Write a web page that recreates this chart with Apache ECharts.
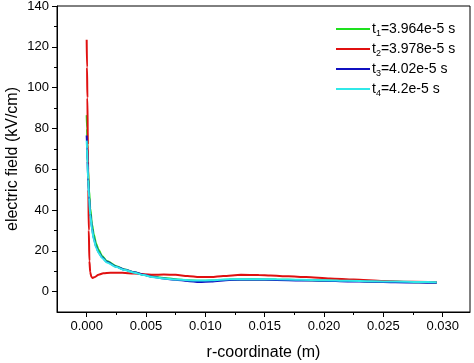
<!DOCTYPE html>
<html>
<head>
<meta charset="utf-8">
<script src="https://cdn.jsdelivr.net/npm/echarts@6/dist/echarts.min.js"></script>
<style>html,body{margin:0;padding:0;background:#fff}#c{width:474px;height:363px}</style>
</head>
<body>
<div id="c"></div>
<script>
// ---- data ----
const seriesSub = ['1', '2', '3', '4'];
const seriesTimes = ['3.964e-5', '3.978e-5', '4.02e-5', '4.2e-5'];

const r1 = [0, 0.00003, 0.00007, 0.00012, 0.0002, 0.0003, 0.00045, 0.0006, 0.0008, 0.001, 0.0013, 0.0017, 0.0025, 0.0032, 0.004, 0.0048, 0.0055, 0.0065, 0.0075, 0.0085, 0.0095, 0.0105, 0.012, 0.014, 0.016, 0.018, 0.02, 0.022, 0.024, 0.026, 0.028, 0.0295];
const v1 = [86.5, 80, 70, 60, 50, 41, 33, 28, 23.5, 20.5, 17.5, 15, 12.4, 10.8, 9.5, 8.3, 7.5, 6.7, 6.1, 5.6, 5.3, 5.4, 5.9, 6.0, 5.9, 5.7, 5.5, 5.3, 5.0, 4.8, 4.6, 4.5];

const r2 = [0, 0.00003, 0.00006, 0.0001, 0.00014, 0.00018, 0.00023, 0.0003, 0.0004, 0.0005, 0.0007, 0.001, 0.0014, 0.002, 0.003, 0.004, 0.0048, 0.0056, 0.0065, 0.0075, 0.0085, 0.0095, 0.0105, 0.0115, 0.013, 0.0145, 0.0155, 0.017, 0.0185, 0.0205, 0.0225, 0.025, 0.0275, 0.0295];
const v2 = [123.5, 110, 95, 72, 50, 30, 15, 9.5, 7.2, 6.7, 7.2, 8.3, 9.0, 9.3, 9.2, 8.9, 8.5, 8.2, 8.4, 8.2, 7.6, 7.1, 7.1, 7.6, 8.2, 8.1, 7.9, 7.5, 7.1, 6.4, 5.9, 5.2, 4.8, 4.6];

const r3 = [0, 0.00003, 0.00007, 0.00012, 0.0002, 0.0003, 0.00045, 0.0006, 0.0008, 0.001, 0.0013, 0.0017, 0.0025, 0.0032, 0.004, 0.0048, 0.0055, 0.0065, 0.0075, 0.0085, 0.0095, 0.0105, 0.012, 0.014, 0.016, 0.018, 0.02, 0.022, 0.024, 0.026, 0.028, 0.0295];
const v3 = [76.5, 72, 64, 56, 47, 38.5, 31, 26, 22, 19.3, 16.8, 14.6, 12.2, 10.7, 9.5, 8.2, 7.3, 6.4, 5.8, 5.2, 4.7, 5.0, 5.7, 5.8, 5.7, 5.5, 5.3, 5.0, 4.8, 4.6, 4.4, 4.3];

const r4 = [0, 0.00003, 0.00007, 0.00012, 0.0002, 0.0003, 0.00045, 0.0006, 0.0008, 0.001, 0.0013, 0.0017, 0.0025, 0.0032, 0.004, 0.0048, 0.0055, 0.0065, 0.0075, 0.0085, 0.0095, 0.0105, 0.012, 0.014, 0.016, 0.018, 0.02, 0.022, 0.024, 0.026, 0.028, 0.0295];
const v4 = [74, 70, 63, 55, 46, 37.5, 30.5, 25.5, 21.5, 19, 16.5, 14.3, 12, 10.6, 9.3, 8.1, 7.2, 6.4, 5.9, 5.6, 5.4, 5.6, 6.1, 6.1, 6.0, 5.8, 5.6, 5.3, 5.1, 4.9, 4.7, 4.6];

const xMajorTicks = [0, 0.005, 0.01, 0.015, 0.02, 0.025, 0.03];
const xMinorTicks = [0.0025, 0.0075, 0.0125, 0.0175, 0.0225, 0.0275];
const yMajorTicks = [0, 20, 40, 60, 80, 100, 120, 140];
const yMinorTicks = [10, 30, 50, 70, 90, 110, 130];

const colors = ['#1ee01e', '#e01010', '#1010c0', '#30e8e8'];
const rs = [r1, r2, r3, r4];
const vs = [v1, v2, v3, v4];

const names = seriesSub.map((s, i) => 't' + s + '=' + seriesTimes[i] + ' s');
const font = '"Liberation Sans", Arial, sans-serif';

const chart = echarts.init(document.getElementById('c'), null, {renderer: 'canvas'});
const axisCommon = {
  min: -0.0025, max: 0.0323, type: 'value'
};
const option = {
  animation: false,
  grid: {left: 57, right: 4, top: 6, bottom: 51, show: true, borderColor: '#000', borderWidth: 1, backgroundColor: 'transparent', containLabel: false, outerBoundsMode: 'none'},
  legend: {
    orient: 'vertical', left: 331, top: 17, itemWidth: 34, itemHeight: 2, itemGap: 4,
    icon: 'rect',
    data: names,
    formatter: function (name) {
      const i = names.indexOf(name);
      return '{a|t}{s|' + seriesSub[i] + '}{a|=' + seriesTimes[i] + ' s}';
    },
    textStyle: {
      fontFamily: font, color: '#000', padding: [0, 0, 0, -3],
      rich: {
        a: {fontSize: 14, fontFamily: font, color: '#000', lineHeight: 18},
        s: {fontSize: 9, fontFamily: font, color: '#000', verticalAlign: 'bottom', lineHeight: 18, padding: [6, 0, 0, 0]}
      }
    }
  },
  xAxis: [
    Object.assign({}, axisCommon, {
      position: 'bottom',
      name: 'r-coordinate (m)', nameLocation: 'middle', nameGap: 33,
      nameTextStyle: {fontFamily: font, fontSize: 16, color: '#000'},
      axisLine: {show: true, onZero: false, lineStyle: {color: '#000', width: 1}},
      axisTick: {show: true, inside: false, length: 5, customValues: xMajorTicks, lineStyle: {color: '#000'}},
      axisLabel: {show: true, customValues: xMajorTicks, margin: 8, fontFamily: font, fontSize: 13, color: '#000',
        formatter: v => v.toFixed(3)},
      splitLine: {show: false}
    }),
    Object.assign({}, axisCommon, {
      position: 'bottom',
      axisLine: {show: false, onZero: false},
      axisTick: {show: true, inside: false, length: 3, customValues: xMinorTicks, lineStyle: {color: '#000'}},
      axisLabel: {show: false},
      splitLine: {show: false}
    })
  ],
  yAxis: [
    {
      type: 'value', min: -10, max: 140, position: 'left',
      name: 'electric field (kV/cm)', nameLocation: 'middle', nameGap: 36, nameMoveOverlap: false,
      nameTextStyle: {fontFamily: font, fontSize: 16, color: '#000'},
      axisLine: {show: true, onZero: false, lineStyle: {color: '#000', width: 1}},
      axisTick: {show: true, inside: false, length: 5, customValues: yMajorTicks, lineStyle: {color: '#000'}},
      axisLabel: {show: true, customValues: yMajorTicks, margin: 8, fontFamily: font, fontSize: 13, color: '#000'},
      splitLine: {show: false}
    },
    {
      type: 'value', min: -10, max: 140, position: 'left',
      axisLine: {show: false, onZero: false},
      axisTick: {show: true, inside: false, length: 3, customValues: yMinorTicks, lineStyle: {color: '#000'}},
      axisLabel: {show: false},
      splitLine: {show: false}
    }
  ],
  series: names.map((n, i) => ({
    name: n, type: 'line', xAxisIndex: 0, yAxisIndex: 0,
    data: rs[i].map((x, j) => [x, vs[i][j]]),
    symbol: 'none', showSymbol: false, smooth: 0.25, smoothMonotone: 'x',
    color: colors[i],
    lineStyle: {color: colors[i], width: 2},
    itemStyle: {color: colors[i]}
  }))
};
chart.setOption(option);
</script>
</body>
</html>
